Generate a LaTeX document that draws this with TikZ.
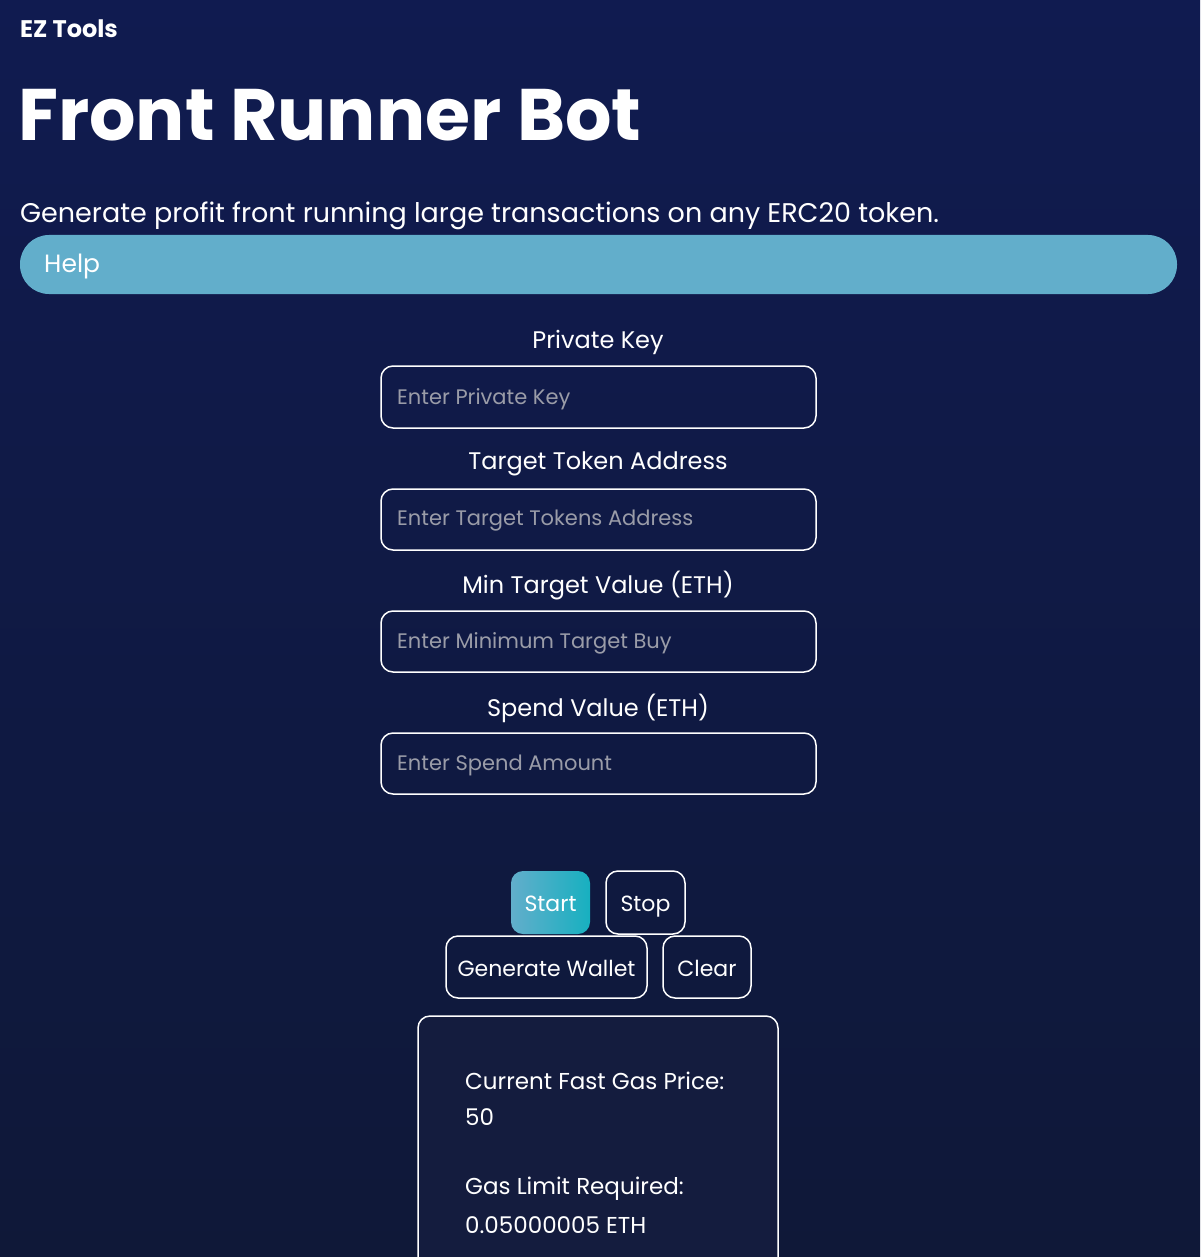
\documentclass[tikz,border=0pt]{standalone}
\usepackage{fontspec}
\setmainfont{Poppins}
\definecolor{bgtop}{HTML}{101B50}
\definecolor{bgbot}{HTML}{0F1838}
\definecolor{helpc}{HTML}{62AECB}
\definecolor{ph}{HTML}{9A9CA8}
\definecolor{boxbg}{HTML}{141C3E}
\definecolor{startA}{HTML}{62AECB}
\definecolor{startB}{HTML}{17B0C0}
\newcommand{\fs}[1]{\fontsize{#1}{#1}\selectfont}
\begin{document}
\begin{tikzpicture}[x=1pt,y=-1pt,
  txt/.style={inner sep=0pt,text=white},
  lbl/.style={txt,font=\fs{24}},
  inp/.style={draw=white,line width=1.5pt,rounded corners=12pt},
  phd/.style={inner sep=0pt,anchor=west,text=ph,font=\fs{21}},
  btn/.style={draw=white,line width=1.5pt,rounded corners=12pt},
  btxt/.style={txt,font=\fs{22},text height=16pt,text depth=0pt},
  info/.style={txt,anchor=west,font=\fs{23}}]
\useasboundingbox (0,0) rectangle (1200,1257);
\shade[top color=bgtop,bottom color=bgbot] (0,0) rectangle (1200,1257);
\node[txt,anchor=west,font=\bfseries\fs{24}] (ez) at (20,29) {EZ Tools};
\node[txt,anchor=west,font=\bfseries\fs{73}] (title) at (18,115) {Front Runner Bot};
\node[txt,anchor=west,font=\fs{27}] (sub) at (20,216) {Generate profit front running large transactions on any ERC20 token.};
\fill[helpc,rounded corners=29pt] (20,235) rectangle (1177,294);
\node[txt,anchor=west,font=\fs{25}] (help) at (44,266) {Help};
\node[lbl] (l1) at (598,342) {Private Key};
\draw[inp] (381,366) rectangle (816,428);
\node[phd] (p1) at (397,399) {Enter Private Key};
\node[lbl] (l2) at (598,464) {Target Token Address};
\draw[inp] (381,489) rectangle (816,550);
\node[phd] (p2) at (397,521) {Enter Target Tokens Address};
\node[lbl] (l3) at (598,586) {Min Target Value (ETH)};
\draw[inp] (381,611) rectangle (816,672);
\node[phd] (p3) at (397,643) {Enter Minimum Target Buy};
\node[lbl] (l4) at (598,708) {Spend Value (ETH)};
\draw[inp] (381,733) rectangle (816,794);
\node[phd] (p4) at (397,765) {Enter Spend Amount};
\shade[left color=startA,right color=startB,rounded corners=12pt] (511,871) rectangle (590,934);
\node[btxt] (start) at (550.5,903) {Start};
\draw[btn] (606,871) rectangle (685,934);
\node[btxt] (stop) at (645.5,903) {Stop};
\draw[btn] (446,936) rectangle (647,998);
\node[btxt] (gen) at (546.5,968) {Generate Wallet};
\draw[btn] (663,936) rectangle (751,998);
\node[btxt] (clr) at (707,968) {Clear};
\draw[btn,fill=boxbg] (418,1016) rectangle (778,1280);
\node[info] (i1) at (465,1081) {Current Fast Gas Price:};
\node[info] (i2) at (465,1117) {50};
\node[info] (i3) at (465,1189) {Gas Limit Required:};
\node[info] (i4) at (465,1225) {0.05000005 ETH};
\end{tikzpicture}
\end{document}
